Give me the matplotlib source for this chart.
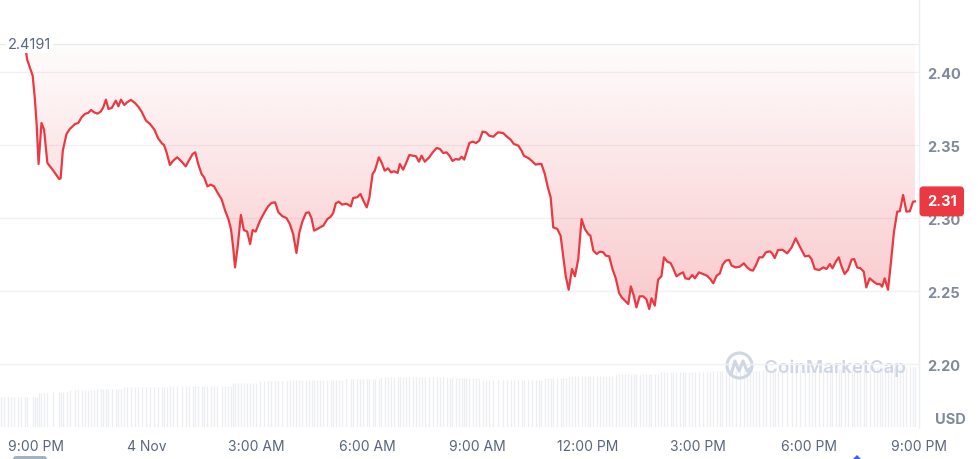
import numpy as np
import matplotlib
matplotlib.use("Agg")
import matplotlib.pyplot as plt
from matplotlib.patches import FancyBboxPatch, Circle, Polygon
from matplotlib.path import Path
from matplotlib.transforms import IdentityTransform
from matplotlib.lines import Line2D

plt.rcParams['font.family'] = ['Inter', 'DejaVu Sans']

# ---------------- data ----------------
open_price = 2.4191

# hours relative to 9:00 PM (3 Nov)
hours = [
    -0.30, -0.24, -0.09, -0.03, 0.02, 0.07, 0.15, 0.22, 0.31, 0.47, 0.63, 0.67, 0.73, 0.83,
    0.92, 1.06, 1.15, 1.24, 1.33, 1.42, 1.50, 1.58, 1.67, 1.76, 1.83, 1.90, 1.97, 2.06,
    2.17, 2.24, 2.31, 2.40, 2.48, 2.58, 2.69, 2.78, 2.87, 2.99, 3.10, 3.22, 3.32, 3.42,
    3.48, 3.55,
    3.64, 3.73, 3.84, 3.96, 4.07, 4.17, 4.26, 4.33, 4.41, 4.50, 4.57, 4.66, 4.75, 4.84,
    4.93, 5.05, 5.14, 5.23, 5.30, 5.36, 5.41, 5.48, 5.57, 5.65, 5.74, 5.82, 5.89, 5.97,
    6.09, 6.21, 6.31, 6.40, 6.50, 6.59, 6.70, 6.81, 6.90, 6.99, 7.08, 7.16, 7.24, 7.34,
    7.42, 7.49, 7.56, 7.65,
    7.72, 7.81, 7.92, 8.01, 8.08, 8.15, 8.23, 8.32, 8.44, 8.56, 8.62, 8.73, 8.82, 8.90,
    8.99, 9.06, 9.15, 9.21, 9.32, 9.39, 9.48, 9.57, 9.65, 9.73, 9.83, 9.89, 9.98, 10.07,
    10.15, 10.24, 10.33, 10.41, 10.48, 10.57, 10.69, 10.80, 10.89, 10.98, 11.07, 11.16,
    11.25, 11.32, 11.41, 11.50, 11.57, 11.64, 11.70, 11.78,
    11.87, 11.96, 12.05, 12.14, 12.23, 12.32, 12.43, 12.56, 12.70, 12.79, 12.90, 12.99,
    13.11, 13.20, 13.26, 13.38, 13.47, 13.58, 13.67, 13.74, 13.83, 13.92, 13.99, 14.06,
    14.17, 14.26, 14.33, 14.40, 14.48, 14.57, 14.65, 14.74, 14.83, 14.92, 15.01, 15.07,
    15.15, 15.24, 15.33, 15.42, 15.49, 15.58, 15.67, 15.76, 15.85,
    15.92, 16.01, 16.10, 16.17, 16.25, 16.32, 16.41, 16.50, 16.59, 16.67, 16.73, 16.82,
    16.91, 17.00, 17.07, 17.16, 17.25, 17.32, 17.41, 17.50, 17.59, 17.65, 17.75, 17.84,
    17.91, 18.02, 18.13, 18.24, 18.33, 18.41, 18.50, 18.59, 18.66, 18.75, 18.84, 18.91,
    19.02, 19.13, 19.24, 19.33, 19.42, 19.49, 19.57, 19.66, 19.75, 19.84, 19.95,
    20.02, 20.08, 20.17, 20.29, 20.42, 20.54, 20.65, 20.76, 20.90, 21.01, 21.08, 21.17,
    21.29, 21.40, 21.49, 21.58, 21.65, 21.74, 21.82, 21.89, 21.98, 22.07, 22.17, 22.24,
    22.32, 22.41, 22.50, 22.57, 22.66, 22.77, 22.86, 22.94, 23.00, 23.07, 23.16, 23.23,
    23.32, 23.41, 23.48, 23.57, 23.66, 23.75, 23.84, 23.89,
]

prices = [
    2.4191, 2.4087, 2.3977, 2.3817, 2.3635, 2.3372, 2.3653, 2.3607, 2.3379, 2.3327, 2.3269, 2.3274, 2.3464, 2.3578,
    2.3612, 2.3646, 2.3653, 2.3692, 2.3715, 2.3722, 2.3742, 2.3726, 2.3717, 2.3731, 2.3760, 2.3813, 2.3749, 2.3756,
    2.3806, 2.3767, 2.3813, 2.3776, 2.3795, 2.3811, 2.3790, 2.3765, 2.3731, 2.3669, 2.3646, 2.3607, 2.3548, 2.3514,
    2.3502, 2.3452,
    2.3365, 2.3395, 2.3418, 2.3388, 2.3356, 2.3402, 2.3441, 2.3452, 2.3372, 2.3304, 2.3281, 2.3219, 2.3231, 2.3219,
    2.3178, 2.3128, 2.3053, 2.2995, 2.2927, 2.2801, 2.2664, 2.2801, 2.3023, 2.2920, 2.2909, 2.2824, 2.2920, 2.2909,
    2.2984, 2.3041, 2.3082, 2.3105, 2.3110, 2.3041, 2.3014, 2.3002, 2.2961, 2.2893, 2.2763, 2.2904, 2.2977, 2.3037,
    2.3041, 2.3000, 2.2916, 2.2927,
    2.2938, 2.2950, 2.2995, 2.3011, 2.3037, 2.3103, 2.3114, 2.3094, 2.3100, 2.3082, 2.3139, 2.3144, 2.3167, 2.3121,
    2.3075, 2.3137, 2.3304, 2.3326, 2.3418, 2.3384, 2.3326, 2.3342, 2.3315, 2.3322, 2.3311, 2.3372, 2.3333, 2.3384,
    2.3434, 2.3429, 2.3425, 2.3388, 2.3429, 2.3388, 2.3418, 2.3457, 2.3482, 2.3475, 2.3447, 2.3452,
    2.3425, 2.3393, 2.3406, 2.3402, 2.3422, 2.3402, 2.3452, 2.3516,
    2.3525, 2.3516, 2.3532, 2.3594, 2.3589, 2.3566, 2.3559, 2.3589, 2.3584, 2.3562, 2.3539, 2.3509,
    2.3498, 2.3463, 2.3429, 2.3413, 2.3395, 2.3368, 2.3372, 2.3372, 2.3304, 2.3205, 2.3144, 2.2938,
    2.2927, 2.2881, 2.2744, 2.2603, 2.2511, 2.2653, 2.2603, 2.2721, 2.2995, 2.2927, 2.2893, 2.2881,
    2.2779, 2.2756, 2.2772, 2.2767, 2.2744, 2.2740, 2.2653, 2.2589, 2.2489,
    2.2459, 2.2436, 2.2413, 2.2534, 2.2470, 2.2390, 2.2466, 2.2466, 2.2447, 2.2379, 2.2452, 2.2402,
    2.2580, 2.2603, 2.2733, 2.2703, 2.2694, 2.2658, 2.2603, 2.2619, 2.2630, 2.2589, 2.2584, 2.2612,
    2.2589, 2.2630, 2.2619, 2.2607, 2.2584, 2.2555, 2.2607, 2.2623, 2.2680, 2.2710, 2.2715, 2.2676,
    2.2664, 2.2669, 2.2692, 2.2664, 2.2646, 2.2642, 2.2680, 2.2733, 2.2733, 2.2767, 2.2774,
    2.2756, 2.2728, 2.2783, 2.2785, 2.2760, 2.2801, 2.2863, 2.2808, 2.2740, 2.2744, 2.2721, 2.2653,
    2.2646, 2.2664, 2.2653, 2.2687, 2.2658, 2.2703, 2.2733, 2.2676, 2.2619, 2.2646, 2.2717, 2.2721,
    2.2664, 2.2658, 2.2635, 2.2527, 2.2589, 2.2566, 2.2550, 2.2550, 2.2532, 2.2589, 2.2511, 2.2676,
    2.2904, 2.3046, 2.3048, 2.3160, 2.3046, 2.3048, 2.3114, 2.3116,
]

# volume (millions USD) at each price timestamp
volumes = [
    60, 60, 60, 60, 60, 68, 68, 68, 68, 70, 70, 70, 70, 70,
    74, 74, 74, 74, 74, 74, 74, 74, 76, 76, 76, 76, 76, 76,
    76, 76, 76, 80, 80, 80, 80, 80, 80, 80, 80, 80, 80, 80,
    80, 80,
    82, 82, 82, 82, 82, 82, 82, 82, 82, 82, 82, 82, 82, 82,
    82, 82, 82, 82, 82, 88, 88, 88, 88, 88, 88, 88, 88, 88,
    92, 92, 92, 92, 92, 92, 92, 92, 94, 94, 94, 94, 94, 94,
    94, 94, 94, 94,
    94, 94, 94, 94, 94, 94, 94, 94, 96, 96, 96, 96, 96, 96,
    96, 96, 96, 96, 96, 100, 100, 100, 100, 100, 100, 100, 100, 100,
    100, 100, 100, 100, 100, 100, 100, 100, 100, 100, 100, 100,
    98, 98, 98, 98, 98, 98, 98, 98,
    98, 98, 98, 94, 94, 94, 94, 94, 94, 94, 94, 94,
    94, 94, 94, 94, 94, 94, 94, 94, 98, 98, 98, 98,
    98, 98, 98, 98, 102, 102, 102, 102, 102, 102, 102, 102,
    102, 102, 102, 102, 102, 102, 102, 106, 106,
    106, 106, 106, 106, 106, 106, 106, 106, 106, 106, 106, 106,
    106, 110, 110, 110, 110, 110, 110, 110, 110, 110, 110, 110,
    110, 110, 110, 110, 110, 112, 112, 112, 112, 112, 112, 112,
    112, 112, 112, 112, 112, 112, 112, 112, 114, 114, 114,
    114, 114, 114, 114, 114, 114, 114, 114, 114, 114, 114, 114,
    114, 116, 116, 116, 116, 116, 116, 116, 116, 116, 116, 116,
    116, 116, 116, 116, 120, 120, 120, 120, 120, 120, 120, 120,
    120, 120, 120, 120, 120, 120, 120, 120,
]

early_vol_hours = [-0.95, -0.86, -0.77, -0.68, -0.59, -0.50, -0.41]
early_volumes = [60, 60, 60, 60, 60, 60, 60]

tick_hours = [0, 3, 6, 9, 12, 15, 18, 21, 24]
tick_labels = ['9:00 PM', '4 Nov', '3:00 AM', '6:00 AM', '9:00 AM',
               '12:00 PM', '3:00 PM', '6:00 PM', '9:00 PM']
price_ticks = [2.20, 2.25, 2.30, 2.35, 2.40]

n = min(len(hours), len(prices), len(volumes))
hours, prices, volumes = hours[:n], prices[:n], volumes[:n]

# ---------------- figure ----------------
W, H = 979, 460
fig = plt.figure(figsize=(W / 100, H / 100), dpi=100)
rect = [0, 32 / H, 919 / W, 428 / H]
XLIM = (-0.978, 24.002)
YLIM = (2.1571, 2.4502)

axv = fig.add_axes(rect, zorder=0)
axv.axis('off')
axv.set_xlim(*XLIM)
axv.set_ylim(0, 856)
axv.vlines(early_vol_hours + hours, 0, early_volumes + volumes, color='#eceef2', lw=0.9)

ax = fig.add_axes(rect, zorder=1)
ax.patch.set_alpha(0)

# gradient fill between line and opening price
coll = ax.fill_between(hours, prices, open_price, facecolor='none', edgecolor='none')
clip = Path.make_compound_path(*coll.get_paths())
red = np.array([234, 57, 67]) / 255.0
grad = np.zeros((256, 1, 4))
grad[:, 0, :3] = red
grad[:, 0, 3] = np.linspace(0.27, 0.015, 256)
im = ax.imshow(grad, extent=[hours[0], hours[-1], min(prices), open_price],
               origin='lower', aspect='auto', interpolation='bilinear', zorder=1)
im.set_clip_path(clip, transform=ax.transData)

ax.axhline(open_price, color='#e4eeec', lw=0.9, zorder=0.8)
ax.plot(hours, prices, color='#ea3943', lw=1.6, zorder=3, solid_joinstyle='round')

ax.set_xlim(*XLIM)
ax.set_ylim(*YLIM)

for s in ['top', 'left', 'bottom']:
    ax.spines[s].set_visible(False)
ax.spines['right'].set_color('#eceff3')
ax.spines['right'].set_linewidth(1.0)

ax.yaxis.tick_right()
ax.set_yticks(price_ticks)
ax.set_yticklabels([f'{v:.2f}' for v in price_ticks])
ax.yaxis.grid(True, color='#eff2f5', lw=1.0)
ax.set_axisbelow(True)
ax.tick_params(axis='y', length=0, pad=5.8, labelsize=10.5, labelcolor='#808a9d')

ax.set_xticks(tick_hours)
ax.set_xticklabels(tick_labels)
ax.tick_params(axis='x', length=0, pad=8.5, labelsize=10, labelcolor='#58667e')

ax.text(-0.76, open_price, f'{open_price:.4f}', fontsize=10.5, color='#58667e',
        va='center', ha='left', zorder=6,
        bbox=dict(facecolor='white', edgecolor='none', pad=1.5))

fig.text(950 / W, 1 - 420 / H, 'USD', ha='center', va='center', fontsize=10.5,
         fontweight='bold', color='#808a9d')

# watermark
wm = '#cfd6e4'
fig.text(764 / W, 1 - 368 / H, 'CoinMarketCap', fontsize=13.5, fontweight='semibold',
         color=wm, va='center', ha='left', zorder=0.5)
fig.add_artist(Circle((739.5, H - 366.5), 12.5, fill=False, ec=wm, lw=2.2,
                      transform=IdentityTransform()))
wx = [731, 735, 739, 743, 747, 751]
wy = [375, 362, 372, 362, 372, 369]
fig.add_artist(Line2D(wx, [H - v for v in wy], color=wm, lw=2.2,
                      transform=IdentityTransform(), solid_joinstyle='round',
                      solid_capstyle='round'))

# current price tag
fig.canvas.draw()
for tick in ax.yaxis.get_major_ticks():
    tick.label2.set_fontweight('bold')
yc = ax.transData.transform((hours[-1], prices[-1]))[1]
fig.add_artist(FancyBboxPatch((919.5, yc - 15), 44.5, 30,
                              boxstyle='round,pad=0,rounding_size=4',
                              fc='#ea3943', ec='none', transform=IdentityTransform(),
                              zorder=10))
fig.text((919.5 + 22.25) / W, yc / H, f'{prices[-1]:.2f}', color='white',
         fontweight='bold', fontsize=10.5, ha='center', va='center', zorder=11)

# cut-off UI bits at bottom edge
fig.add_artist(FancyBboxPatch((13, -3), 34, 6, boxstyle='round,pad=0,rounding_size=3',
                              fc='#a6b0c3', ec='none', transform=IdentityTransform()))
fig.add_artist(Polygon([(853, 0), (861, 0), (857, 4)], closed=True, fc='#3861fb',
                       ec='none', transform=IdentityTransform()))

fig.savefig('out.png', dpi=100)
